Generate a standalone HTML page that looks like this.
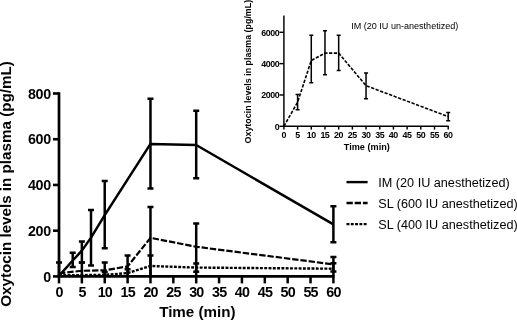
<!DOCTYPE html>
<html><head><meta charset="utf-8"><title>Oxytocin levels in plasma</title>
<style>html,body{margin:0;padding:0;background:#fff;overflow:hidden}svg{display:block}</style></head>
<body>
<svg width="517" height="321" viewBox="0 0 517 321">
<rect width="517" height="321" fill="#fff"/>
<g stroke="#000" stroke-width="2.7" fill="none" stroke-linecap="butt">
<path d="M59.0 92.20V277.75"/>
<path d="M57.65 276.4H334.6"/>
<path d="M53 276.40H59.0" stroke-width="2.6"/>
<path d="M53 230.67H59.0" stroke-width="2.6"/>
<path d="M53 184.95H59.0" stroke-width="2.6"/>
<path d="M53 139.22H59.0" stroke-width="2.6"/>
<path d="M53 93.50H59.0" stroke-width="2.6"/>
<path d="M59.00 276.4V283.4" stroke-width="2.5"/>
<path d="M81.87 276.4V283.4" stroke-width="2.5"/>
<path d="M104.73 276.4V283.4" stroke-width="2.5"/>
<path d="M127.60 276.4V283.4" stroke-width="2.5"/>
<path d="M150.47 276.4V283.4" stroke-width="2.5"/>
<path d="M173.33 276.4V283.4" stroke-width="2.5"/>
<path d="M196.20 276.4V283.4" stroke-width="2.5"/>
<path d="M219.07 276.4V283.4" stroke-width="2.5"/>
<path d="M241.93 276.4V283.4" stroke-width="2.5"/>
<path d="M264.80 276.4V283.4" stroke-width="2.5"/>
<path d="M287.67 276.4V283.4" stroke-width="2.5"/>
<path d="M310.53 276.4V283.4" stroke-width="2.5"/>
<path d="M333.40 276.4V283.4" stroke-width="2.5"/>
</g>
<g font-family="'Liberation Sans',Arial,sans-serif" font-weight="bold" font-size="14.3" letter-spacing="-0.3" fill="#000">
<text x="50.9" y="282.10" text-anchor="end">0</text>
<text x="50.9" y="236.20" text-anchor="end">200</text>
<text x="50.9" y="190.30" text-anchor="end">400</text>
<text x="50.9" y="144.40" text-anchor="end">600</text>
<text x="50.9" y="98.50" text-anchor="end">800</text>
<text x="59.10" y="296.8" text-anchor="middle" letter-spacing="-0.8">0</text>
<text x="81.97" y="296.8" text-anchor="middle" letter-spacing="-0.8">5</text>
<text x="104.83" y="296.8" text-anchor="middle" letter-spacing="-0.8">10</text>
<text x="127.70" y="296.8" text-anchor="middle" letter-spacing="-0.8">15</text>
<text x="150.57" y="296.8" text-anchor="middle" letter-spacing="-0.8">20</text>
<text x="173.43" y="296.8" text-anchor="middle" letter-spacing="-0.8">25</text>
<text x="196.30" y="296.8" text-anchor="middle" letter-spacing="-0.8">30</text>
<text x="219.17" y="296.8" text-anchor="middle" letter-spacing="-0.8">35</text>
<text x="242.03" y="296.8" text-anchor="middle" letter-spacing="-0.8">40</text>
<text x="264.90" y="296.8" text-anchor="middle" letter-spacing="-0.8">45</text>
<text x="287.77" y="296.8" text-anchor="middle" letter-spacing="-0.8">50</text>
<text x="310.63" y="296.8" text-anchor="middle" letter-spacing="-0.8">55</text>
<text x="333.50" y="296.8" text-anchor="middle" letter-spacing="-0.8">60</text>
</g>
<g font-family="'Liberation Sans',Arial,sans-serif" font-weight="bold" font-size="15.2" fill="#000">
<text x="197.4" y="317.2" text-anchor="middle">Time (min)</text>
<text transform="translate(10.5 184.0) rotate(-90)" text-anchor="middle">Oxytocin levels in plasma (pg/mL)</text>
</g>
<g stroke="#000" fill="none">
<path d="M72.72 252.70V266.90M69.72 252.70H75.72M69.72 266.90H75.72" stroke-width="2.5"/>
<path d="M81.87 241.40V262.60M78.87 241.40H84.87M78.87 262.60H84.87" stroke-width="2.5"/>
<path d="M91.01 210.00V265.40M88.01 210.00H94.01M88.01 265.40H94.01" stroke-width="2.5"/>
<path d="M104.73 181.00V248.30M101.73 181.00H107.73M101.73 248.30H107.73" stroke-width="2.5"/>
<path d="M150.47 98.70V188.40M147.47 98.70H153.47M147.47 188.40H153.47" stroke-width="2.5"/>
<path d="M196.20 110.70V178.30M193.20 110.70H199.20M193.20 178.30H199.20" stroke-width="2.5"/>
<path d="M333.40 206.20V242.30M330.40 206.20H336.40M330.40 242.30H336.40" stroke-width="2.5"/>
<path d="M59.00 262.60V276.40M56.00 262.60H62.00" stroke-width="2.5"/>
<path d="M81.87 262.60V276.40M78.87 262.60H84.87" stroke-width="2.5"/>
<path d="M104.73 262.60V276.40M101.73 262.60H107.73" stroke-width="2.5"/>
<path d="M127.60 255.40V276.40M124.60 255.40H130.60" stroke-width="2.5"/>
<path d="M150.47 207.10V276.40M147.47 207.10H153.47" stroke-width="2.5"/>
<path d="M196.20 223.60V276.40M193.20 223.60H199.20" stroke-width="2.5"/>
<path d="M333.40 257.00V276.40M330.40 257.00H336.40" stroke-width="2.5"/>
<path d="M104.73 272.00V276.40M101.73 272.00H107.73" stroke-width="2.5"/>
<path d="M127.60 269.30V276.40M124.60 269.30H130.60" stroke-width="2.5"/>
<path d="M150.47 255.40V276.40M147.47 255.40H153.47" stroke-width="2.5"/>
<path d="M196.20 263.50V271.70M193.20 263.50H199.20M193.20 271.70H199.20" stroke-width="2.5"/>
<path d="M333.40 263.30V271.60M330.40 263.30H336.40M330.40 271.60H336.40" stroke-width="2.5"/>
<rect x="194.2" y="270.6" width="4.4" height="2.2" fill="#000" stroke="none"/>
<path d="M59.00 275.80L72.72 260.48L81.87 250.65L91.01 237.62L104.73 215.21L150.47 143.88L196.20 145.03L333.40 224.36" stroke-width="2.5" stroke-linejoin="round"/>
<path d="M59.00 273.29L81.87 270.77L104.73 270.31L127.60 266.43L150.47 237.85L196.20 246.76L333.40 264.37" stroke-width="2.2" stroke-dasharray="6.4 1.9"/>
<path d="M59.00 275.34L81.87 275.11L104.73 274.89L127.60 273.06L150.47 265.97L196.20 267.57L333.40 268.71" stroke-width="2.4" stroke-dasharray="2.9 1.4"/>
<path d="M346.5 182.1H367.6" stroke-width="2.4"/>
<path d="M346.5 203H367.6" stroke-width="2.4" stroke-dasharray="6.3 1.9"/>
<path d="M346.5 224.1H367.6" stroke-width="2.4" stroke-dasharray="2.9 1.4"/>
</g>
<g font-family="'Liberation Sans',Arial,sans-serif" font-size="12.65" fill="#000">
<text x="378.3" y="187.1">IM (20 IU anesthetized)</text>
<text x="378.3" y="208">SL (600 IU anesthetized)</text>
<text x="378.3" y="228.6">SL (400 IU anesthetized)</text>
</g>
<g stroke="#000" stroke-width="1.45" fill="none">
<path d="M283.9 15.5V126.89999999999999"/>
<path d="M283.29999999999995 126.3H448.8"/>
<path d="M279.5 126.30H283.9"/>
<path d="M279.5 94.97H283.9"/>
<path d="M279.5 63.63H283.9"/>
<path d="M279.5 32.30H283.9"/>
<path d="M283.90 126.3V129.6"/>
<path d="M297.59 126.3V129.6"/>
<path d="M311.28 126.3V129.6"/>
<path d="M324.97 126.3V129.6"/>
<path d="M338.67 126.3V129.6"/>
<path d="M352.36 126.3V129.6"/>
<path d="M366.05 126.3V129.6"/>
<path d="M379.74 126.3V129.6"/>
<path d="M393.43 126.3V129.6"/>
<path d="M407.12 126.3V129.6"/>
<path d="M420.82 126.3V129.6"/>
<path d="M434.51 126.3V129.6"/>
<path d="M448.20 126.3V129.6"/>
<path d="M297.59 94.60V109.80M295.59 94.60H299.59M295.59 109.80H299.59" stroke-width="1.5"/>
<path d="M311.28 35.30V82.70M309.28 35.30H313.28M309.28 82.70H313.28" stroke-width="1.5"/>
<path d="M324.97 30.70V74.80M322.97 30.70H326.97M322.97 74.80H326.97" stroke-width="1.5"/>
<path d="M338.67 35.30V70.40M336.67 35.30H340.67M336.67 70.40H340.67" stroke-width="1.5"/>
<path d="M366.05 72.90V98.80M364.05 72.90H368.05M364.05 98.80H368.05" stroke-width="1.5"/>
<path d="M448.20 112.40V120.80M446.20 112.40H450.20M446.20 120.80H450.20" stroke-width="1.5"/>
<path d="M283.90 126.30L297.59 102.17L311.28 60.50L324.97 53.14L338.67 53.14L366.05 85.72L448.20 116.59" stroke-width="1.6" stroke-dasharray="3.3 1.5"/>
</g>
<g font-family="'Liberation Sans',Arial,sans-serif" font-weight="bold" font-size="8.9" letter-spacing="-0.45" fill="#000">
<text x="279.2" y="129.50" text-anchor="end">0</text>
<text x="279.2" y="98.17" text-anchor="end">2000</text>
<text x="279.2" y="66.83" text-anchor="end">4000</text>
<text x="279.2" y="35.50" text-anchor="end">6000</text>
<text x="283.80" y="138.45" text-anchor="middle">0</text>
<text x="297.49" y="138.45" text-anchor="middle">5</text>
<text x="311.18" y="138.45" text-anchor="middle">10</text>
<text x="324.87" y="138.45" text-anchor="middle">15</text>
<text x="338.57" y="138.45" text-anchor="middle">20</text>
<text x="352.26" y="138.45" text-anchor="middle">25</text>
<text x="365.95" y="138.45" text-anchor="middle">30</text>
<text x="379.64" y="138.45" text-anchor="middle">35</text>
<text x="393.33" y="138.45" text-anchor="middle">40</text>
<text x="407.02" y="138.45" text-anchor="middle">45</text>
<text x="420.72" y="138.45" text-anchor="middle">50</text>
<text x="434.41" y="138.45" text-anchor="middle">55</text>
<text x="448.10" y="138.45" text-anchor="middle">60</text>
</g>
<g font-family="'Liberation Sans',Arial,sans-serif" font-weight="bold" font-size="8.9" fill="#000">
<text x="366.8" y="149.8" text-anchor="middle" font-size="9.15">Time (min)</text>
<text transform="translate(250.7 143.4) rotate(-90)">Oxytocin levels in plasma (pg/mL)</text>
</g>
<text x="351.2" y="29.4" font-family="'Liberation Sans',Arial,sans-serif" font-size="9.05" fill="#000">IM (20 IU un-anesthetized)</text>
</svg>
</body></html>
